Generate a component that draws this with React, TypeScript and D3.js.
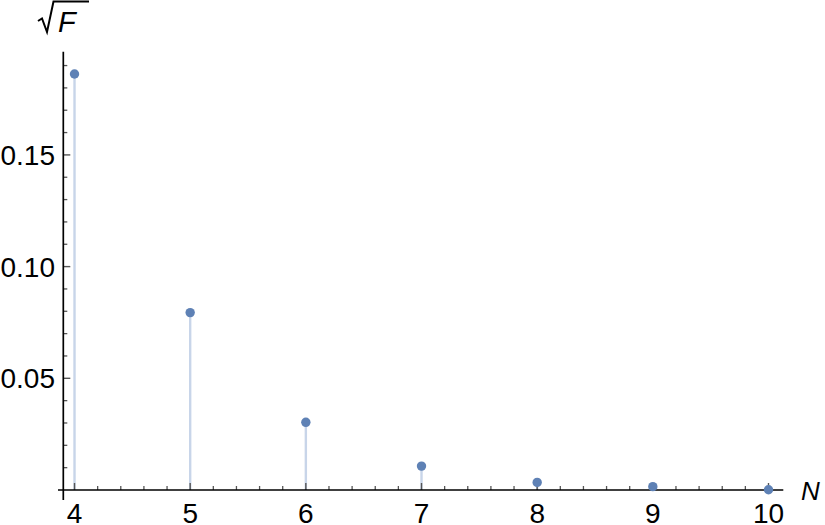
import React from "react";
import * as d3 from "d3";

// values
const nValues = [4, 5, 6, 7, 8, 9, 10];
const sqrtF = [0.1862, 0.0794, 0.0303, 0.0107, 0.0034, 0.0015, 0.0001];
const xTickLabels = ["4", "5", "6", "7", "8", "9", "10"];
const yTickValues = [0.05, 0.1, 0.15];
const yTickLabels = ["0.05", "0.10", "0.15"];

const W = 825;
const H = 525;
const FONT = "'Liberation Sans', Arial, Helvetica, sans-serif";
const pointColor = "#5e81b5";
const stemColor = "#c8d5e9";
const tickColor = "#555";

const App = () => {
  const x = d3.scaleLinear().domain([3.903, 10.128]).range([63.3, 783.3]);
  const y = d3.scaleLinear().domain([0, 0.1962]).range([490, 51.7]);

  // minor ticks every 0.2 on x, every 0.01 on y
  const isMajorY = v => Math.abs(v * 20 - Math.round(v * 20)) < 1e-6;
  const xMinor = d3.range(20, 51).map(i => i / 5).filter(v => !Number.isInteger(v));
  const yMinor = d3.range(1, 20).map(i => i / 100).filter(v => !isMajorY(v));

  const x0 = x.range()[0];
  const y0 = y(0);

  return (
    <svg
      width={W}
      height={H}
      style={{ position: "absolute", left: 0, top: 0, display: "block", background: "#fff" }}
    >
      {/* stems */}
      {nValues.map((n, i) => (
        <line
          key={"s" + n}
          x1={x(n)}
          x2={x(n)}
          y1={y(0)}
          y2={y(sqrtF[i])}
          stroke={stemColor}
          strokeWidth={2.4}
        />
      ))}

      {/* x ticks */}
      {xMinor.map(v => (
        <line key={"xm" + v} x1={x(v)} x2={x(v)} y1={y0} y2={y0 - 4} stroke={tickColor} strokeWidth={1.3} />
      ))}
      {nValues.map(v => (
        <line key={"xM" + v} x1={x(v)} x2={x(v)} y1={y0} y2={y0 - 7} stroke={tickColor} strokeWidth={1.4} />
      ))}

      {/* y ticks */}
      {yMinor.map(v => (
        <line key={"ym" + v} x1={x0} x2={x0 + 4} y1={y(v)} y2={y(v)} stroke={tickColor} strokeWidth={1.3} />
      ))}
      {yTickValues.map(v => (
        <line key={"yM" + v} x1={x0} x2={x0 + 7} y1={y(v)} y2={y(v)} stroke={tickColor} strokeWidth={1.4} />
      ))}

      {/* axes */}
      <line x1={58} x2={x.range()[1]} y1={y0} y2={y0} stroke="#000" strokeWidth={1.7} />
      <line x1={x0} x2={x0} y1={y.range()[1]} y2={500} stroke="#000" strokeWidth={1.7} />

      {/* points */}
      {nValues.map((n, i) => (
        <circle key={"p" + n} cx={x(n)} cy={y(sqrtF[i])} r={4.7} fill={pointColor} />
      ))}

      {/* tick labels */}
      {nValues.map((n, i) => (
        <text
          key={"xl" + n}
          x={x(n)}
          y={523}
          textAnchor="middle"
          fontFamily={FONT}
          fontSize={28}
          fill="#000"
        >
          {xTickLabels[i]}
        </text>
      ))}
      {yTickValues.map((v, i) => (
        <text
          key={"yl" + v}
          x={55}
          y={y(v)}
          dy="0.36em"
          textAnchor="end"
          fontFamily={FONT}
          fontSize={28}
          fill="#000"
        >
          {yTickLabels[i]}
        </text>
      ))}

      {/* axis labels */}
      <text x={801} y={500} fontFamily={FONT} fontStyle="italic" fontSize={26} fill="#000">
        N
      </text>
      <g>
        <path
          d="M38,21 L42,18.5 L47,32 L53.5,1.5 L89,1.5"
          fill="none"
          stroke="#000"
          strokeWidth={2}
          strokeLinejoin="miter"
        />
        <text x={58} y={32} fontFamily={FONT} fontStyle="italic" fontSize={29} fill="#000">
          F
        </text>
      </g>
    </svg>
  );
};

export default App;
